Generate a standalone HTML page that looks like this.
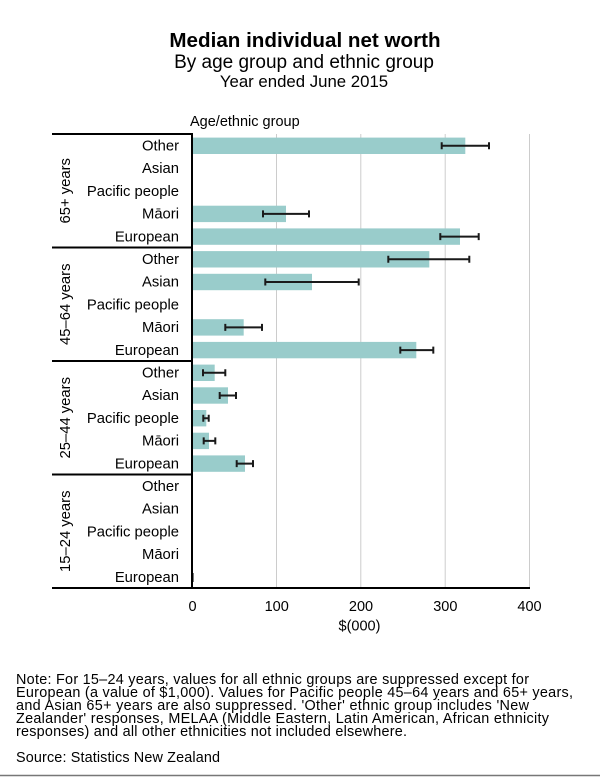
<!DOCTYPE html>
<html>
<head>
<meta charset="utf-8">
<style>
html,body{margin:0;padding:0;background:#fff;}
svg{display:block;}
text{font-family:"Liberation Sans",Arial,sans-serif;fill:#000;}
</style>
</head>
<body>
<svg width="600" height="777" viewBox="0 0 600 777" xmlns="http://www.w3.org/2000/svg">
<rect x="0" y="0" width="600" height="777" fill="#fff"/>
<!-- Titles -->
<text x="305" y="47" font-size="20.6" font-weight="bold" text-anchor="middle">Median individual net worth</text>
<text x="304" y="68" font-size="19" text-anchor="middle">By age group and ethnic group</text>
<text x="304" y="87" font-size="16.8" text-anchor="middle">Year ended June 2015</text>
<text x="190" y="126" font-size="14.5">Age/ethnic group</text>

<!-- gridlines -->
<g stroke="#cccccc" stroke-width="1">
<line x1="276.5" y1="134" x2="276.5" y2="588"/>
<line x1="360.8" y1="134" x2="360.8" y2="588"/>
<line x1="445.2" y1="134" x2="445.2" y2="588"/>
<line x1="529.5" y1="134" x2="529.5" y2="588"/>
</g>

<!-- bars -->
<g fill="#99cccb">
<rect x="193" y="137.6" width="272.3" height="16.4"/>
<rect x="193" y="205.7" width="93" height="16.4"/>
<rect x="193" y="228.4" width="267" height="16.4"/>
<rect x="193" y="251.1" width="236.3" height="16.4"/>
<rect x="193" y="273.8" width="119" height="16.4"/>
<rect x="193" y="319.2" width="50.7" height="16.4"/>
<rect x="193" y="341.9" width="223.3" height="16.4"/>
<rect x="193" y="364.6" width="21.7" height="16.4"/>
<rect x="193" y="387.3" width="35" height="16.4"/>
<rect x="193" y="410" width="13.3" height="16.4"/>
<rect x="193" y="432.7" width="16" height="16.4"/>
<rect x="193" y="455.4" width="52" height="16.4"/>
</g>
<rect x="192" y="573" width="1.6" height="9" fill="#222"/>

<!-- error bars -->
<g stroke="#1a1a1a" stroke-width="2" fill="none">
<path d="M441.7 145.8H489M441.7 142.3V149.3M489 142.3V149.3"/>
<path d="M263 213.9H309M263 210.4V217.4M309 210.4V217.4"/>
<path d="M440.3 236.6H478.7M440.3 233.1V240.1M478.7 233.1V240.1"/>
<path d="M388.3 259.3H469.3M388.3 255.8V262.8M469.3 255.8V262.8"/>
<path d="M265.3 282H358.7M265.3 278.5V285.5M358.7 278.5V285.5"/>
<path d="M225.3 327.4H262M225.3 323.9V330.9M262 323.9V330.9"/>
<path d="M400.3 350.1H433.3M400.3 346.6V353.6M433.3 346.6V353.6"/>
<path d="M203 372.8H225.3M203 369.3V376.3M225.3 369.3V376.3"/>
<path d="M219.7 395.5H236M219.7 392V399M236 392V399"/>
<path d="M203.3 418.2H208.7M203.3 414.7V421.7M208.7 414.7V421.7"/>
<path d="M203.7 440.9H215.3M203.7 437.4V444.4M215.3 437.4V444.4"/>
<path d="M236.7 463.6H253M236.7 460.1V467.1M253 460.1V467.1"/>
</g>

<!-- axes and separators -->
<g stroke="#000" stroke-width="2" fill="none">
<line x1="192" y1="133" x2="192" y2="589"/>
<line x1="52" y1="134" x2="192" y2="134"/>
<line x1="52" y1="247.5" x2="192" y2="247.5"/>
<line x1="52" y1="361" x2="192" y2="361"/>
<line x1="52" y1="474.5" x2="192" y2="474.5"/>
<line x1="52" y1="588" x2="530" y2="588"/>
</g>

<!-- category labels -->
<g font-size="14.8" text-anchor="end">
<text x="179" y="150.5">Other</text>
<text x="179" y="173.2">Asian</text>
<text x="179" y="195.9">Pacific people</text>
<text x="179" y="218.6">Māori</text>
<text x="179" y="241.3">European</text>
<text x="179" y="264">Other</text>
<text x="179" y="286.7">Asian</text>
<text x="179" y="309.4">Pacific people</text>
<text x="179" y="332.1">Māori</text>
<text x="179" y="354.8">European</text>
<text x="179" y="377.5">Other</text>
<text x="179" y="400.2">Asian</text>
<text x="179" y="422.9">Pacific people</text>
<text x="179" y="445.6">Māori</text>
<text x="179" y="468.3">European</text>
<text x="179" y="491">Other</text>
<text x="179" y="513.7">Asian</text>
<text x="179" y="536.4">Pacific people</text>
<text x="179" y="559.1">Māori</text>
<text x="179" y="581.8">European</text>
</g>

<!-- group labels -->
<g font-size="14.8" text-anchor="middle">
<text transform="translate(70,190.75) rotate(-90)">65+ years</text>
<text transform="translate(70,304.25) rotate(-90)">45–64 years</text>
<text transform="translate(70,417.75) rotate(-90)">25–44 years</text>
<text transform="translate(70,531.25) rotate(-90)">15–24 years</text>
</g>

<!-- x tick labels -->
<g font-size="14.5" text-anchor="middle">
<text x="192.5" y="611">0</text>
<text x="276.7" y="611">100</text>
<text x="361" y="611">200</text>
<text x="445.3" y="611">300</text>
<text x="529.5" y="611">400</text>
<text x="359.5" y="630.5">$(000)</text>
</g>

<!-- notes -->
<g font-size="14.4">
<text x="16" y="684" textLength="513" lengthAdjust="spacing">Note: For 15–24 years, values for all ethnic groups are suppressed except for</text>
<text x="16" y="697" textLength="557" lengthAdjust="spacing">European (a value of $1,000). Values for Pacific people 45–64 years and 65+ years,</text>
<text x="16" y="710" textLength="513" lengthAdjust="spacing">and Asian 65+ years are also suppressed.  'Other' ethnic group includes 'New</text>
<text x="16" y="723" textLength="533" lengthAdjust="spacing">Zealander' responses, MELAA (Middle Eastern, Latin American, African ethnicity</text>
<text x="16" y="736" textLength="391" lengthAdjust="spacing">responses) and all other ethnicities not included elsewhere.</text>
<text x="16" y="762" textLength="204" lengthAdjust="spacing">Source: Statistics New Zealand</text>
</g>
<line x1="0" y1="775.5" x2="600" y2="775.5" stroke="#777" stroke-width="1.5"/>
</svg>
</body>
</html>
